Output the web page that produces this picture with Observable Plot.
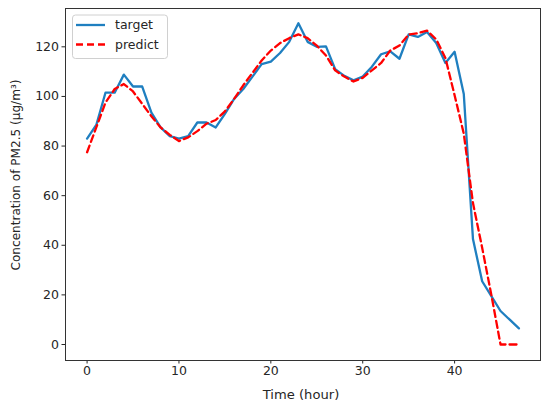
<!DOCTYPE html>
<html><head><meta charset="utf-8">
<script src="https://cdn.jsdelivr.net/npm/d3@7"></script>
<script src="https://cdn.jsdelivr.net/npm/@observablehq/plot@0.6"></script>
<style>body{margin:0;background:#fff} #chart{position:relative;width:550px;height:407px}</style>
</head><body><div id="chart"></div>
<script>
const hours = [0,1,2,3,4,5,6,7,8,9,10,11,12,13,14,15,16,17,18,19,20,21,22,23,24,25,26,27,28,29,30,31,32,33,34,35,36,37,38,39,40,41,42,43,44,45,46,47];
const target = [83,88.5,101.5,101.5,108.8,104,104,93.5,87.5,84,83,84,89.5,89.5,87.5,93,99,103,108,113,114,117.5,122,129.5,122,120,120.2,111,108.3,106.5,108,112,117,118.2,115.2,125,124,126,121.5,113.5,118,101,42.5,25.5,19.5,13.5,10,6.5];
const predict = [77.5,87.5,97.5,103,105,102,97,92,87.5,84.5,82,83.5,86,89,90.5,94,99,104.5,109.5,114.5,118.5,121.5,123.5,125,123.5,120.5,116.5,110.5,108,106,107.5,110.5,113.5,118.5,120.5,125,125.5,126.5,123,115.5,100.5,85,57,39,20,0,0,0];
const xTicks = [0,10,20,30,40];
const yTicks = [0,20,40,60,80,100,120];
const seriesNames = ["target","predict"];
const colors = ["#1f7fc0","#ff0000"];
const xLabel = "Time (hour)";
const yLabel = "Concentration of PM2.5 (μg/m³)";

const plot = Plot.plot({
  width:550, height:407,
  marginLeft:65, marginRight:10, marginTop:8, marginBottom:47,
  style:{fontFamily:"DejaVu Sans", fontSize:"12.5px", color:"#262626", background:"#fff"},
  x:{domain:[-2.35,49.35]},
  y:{domain:[-6.45,135.45]},
  marks:[
    Plot.axisX({ticks:xTicks, tickSize:3.5, tickPadding:2, label:null}),
    Plot.axisY({ticks:yTicks, tickSize:3.5, tickPadding:3, label:null}),
    Plot.line(hours, {x:hours, y:target, stroke:colors[0], strokeWidth:2.3}),
    Plot.line(hours, {x:hours, y:predict, stroke:colors[1], strokeWidth:2.3, strokeDasharray:"7,4"}),
    Plot.frame({stroke:"#333", strokeWidth:1})
  ]
});
document.getElementById("chart").appendChild(plot);

const svg = d3.select(plot);
function fitText(sel, target, base) {
  const len = sel.node().getComputedTextLength();
  if (len > 0) sel.attr("font-size", (base * target / len).toFixed(2) + "px");
}
const xl = svg.append("text").attr("x",301).attr("y",394).attr("dy","0.35em")
  .attr("text-anchor","middle").attr("font-family","DejaVu Sans").attr("font-size","13px")
  .attr("fill","#262626").text(xLabel);
fitText(xl, 76.5, 13);
const yl = svg.append("text").attr("transform","translate(16,175) rotate(-90)").attr("dy","0.35em")
  .attr("text-anchor","middle").attr("font-family","DejaVu Sans").attr("font-size","12px")
  .attr("fill","#262626").text(yLabel);
fitText(yl, 191, 12);

const g = svg.append("g").attr("font-family","DejaVu Sans").attr("font-size","12.5px").attr("text-anchor","start");
g.append("rect").attr("x",72.5).attr("y",15).attr("width",95).attr("height",43.5)
  .attr("rx",3).attr("fill","#fff").attr("fill-opacity",0.85).attr("stroke","#d0d0d0");
seriesNames.forEach((name,i)=>{
  const y = 25 + i*19.5;
  g.append("line").attr("x1",76).attr("x2",105).attr("y1",y).attr("y2",y)
    .attr("stroke",colors[i]).attr("stroke-width",2.3)
    .attr("stroke-dasharray", i===1 ? "7,4" : null);
  g.append("text").attr("x",115).attr("y",y).attr("dy","0.35em").attr("text-anchor","start").attr("fill","#262626").text(name);
});
</script>
</body></html>
